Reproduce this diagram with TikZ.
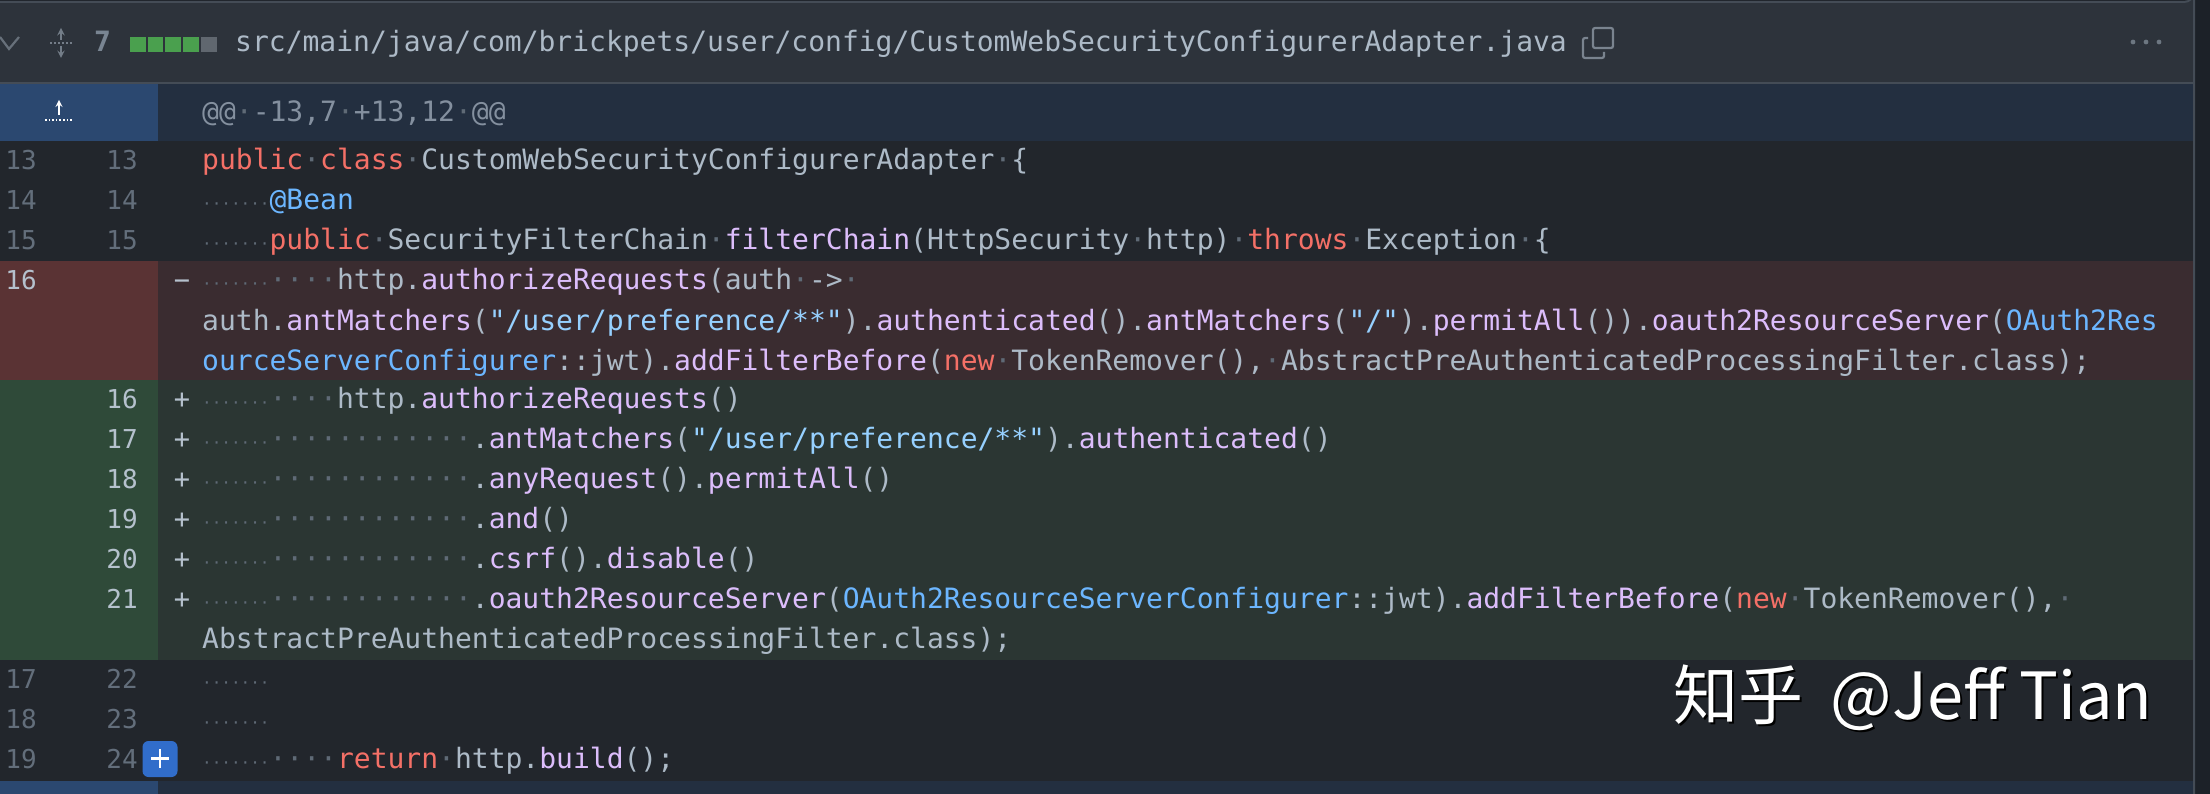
\documentclass[tikz,border=0pt]{standalone}
\usepackage{fontspec}
\usepackage{xcolor}
\newfontfamily\codefam{DejaVu Sans Mono}
\newfontfamily\markfam{Noto Sans CJK SC}
\definecolor{pagebg}{HTML}{1C2128}
\definecolor{codebg}{HTML}{22262C}
\definecolor{headbg}{HTML}{2D333B}
\definecolor{edgeln}{HTML}{444C56}
\definecolor{hunkbg}{HTML}{232F40}
\definecolor{hunknum}{HTML}{2B4870}
\definecolor{delbg}{HTML}{3A2C30}
\definecolor{delnum}{HTML}{5A3334}
\definecolor{addbg}{HTML}{2B3633}
\definecolor{addnum}{HTML}{2F4A39}
\definecolor{plain}{HTML}{ADBAC7}
\definecolor{dimnum}{HTML}{636E7B}
\definecolor{redkw}{HTML}{F47067}
\definecolor{bluety}{HTML}{6CB6FF}
\definecolor{bluestr}{HTML}{96D0FF}
\definecolor{purpfn}{HTML}{DCBDFB}
\definecolor{wsgray}{HTML}{5F6A76}
\definecolor{statgreen}{HTML}{4AA04E}
\definecolor{btnblue}{HTML}{316DCA}
\newcommand{\ckw}[1]{\textcolor{redkw}{#1}}
\newcommand{\cty}[1]{\textcolor{bluety}{#1}}
\newcommand{\cstr}[1]{\textcolor{bluestr}{#1}}
\newcommand{\cfn}[1]{\textcolor{purpfn}{#1}}
\newcommand{\ws}{\textcolor{wsgray}{·}}
\newcommand{\wsfour}{\textcolor{wsgray}{\fontsize{16}{16}\selectfont ·······}}
\newcommand{\wseight}{\wsfour\ws\ws\ws\ws}
\newcommand{\wssixteen}{\wseight\ws\ws\ws\ws\ws\ws\ws\ws}
\tikzset{
	codetxt/.style={anchor=base west,inner sep=0pt,text=plain,font=\codefam\fontsize{28}{34}\selectfont},
	oldnum/.style={anchor=base east,inner sep=0pt,text=dimnum,font=\codefam\fontsize{26}{30}\selectfont},
	litnum/.style={oldnum,text=plain!90!white},
	signtxt/.style={anchor=base,inner sep=0pt,text=plain!90!white,font=\codefam\fontsize{27}{30}\selectfont},
	iconln/.style={draw=#1,line width=2.2pt},
	iconln/.default=plain
}
\begin{document}
\begin{tikzpicture}[x=1pt,y=-1pt]
	\useasboundingbox (0,0) rectangle (2210,794);
	\fill[pagebg] (0,0) rectangle (2210,794);
	% panel
	\fill[codebg] (0,84) rectangle (2194,794);
	\fill[headbg] (0,2) -- (2184,2) arc[start angle=90,end angle=0,radius=10] -- (2194,84) -- (0,84) -- cycle;
	\draw[edgeln,line width=2pt] (0,2) -- (2184,2) arc[start angle=90,end angle=0,radius=10] -- (2194,794);
	\draw[edgeln,line width=2pt] (0,83) -- (2194,83);
	% hunks
	\fill[hunkbg] (0,84) rectangle (2193,141);
	\fill[hunknum] (0,84) rectangle (158,141);
	\fill[hunkbg] (0,781) rectangle (2193,794);
	\fill[hunknum] (0,781) rectangle (158,794);
	% changed rows
	\fill[delbg] (0,261) rectangle (2193,380);
	\fill[delnum] (0,261) rectangle (158,380);
	\fill[addbg] (0,380) rectangle (2193,660);
	\fill[addnum] (0,380) rectangle (158,660);
	% header
	\draw[plain!45!headbg,line width=2.2pt] (0,37) -- (9,49) -- (19,37);
	\draw[iconln=plain!55!headbg,-stealth] (61,40) -- (61,28);
	\draw[iconln=plain!55!headbg,-stealth] (61,46) -- (61,58);
	\draw[plain!55!headbg,line width=2pt,dotted] (50,43) -- (72,43);
	\node[codetxt,text=dimnum!70!plain,font=\codefam\bfseries\fontsize{28}{34}\selectfont] (changes) at (94,52) {7};
	\foreach \x in {130,147.7,165.4,183.1}
	{\fill[statgreen] (\x,37) rectangle +(15.7,15);}
	\fill[edgeln!85!white] (200.8,37) rectangle +(15.7,15);
	\node[codetxt] (path) at (235,52) {src/main/java/com/brickpets/user/config/CustomWebSecurityConfigurerAdapter.java};
	\draw[iconln=plain!60!headbg,rounded corners=2pt] (1593,28) rectangle (1613,48);
	\draw[iconln=plain!60!headbg,rounded corners=2pt] (1588,38) -- (1583,38) -- (1583,58) -- (1604,58) -- (1604,52);
	\foreach \x in {2133,2146,2159}
	{\fill[plain!50!headbg] (\x,42) circle (2.4);}
	% hunk row
	\draw[white,line width=2pt,-stealth] (59,115) -- (59,100);
	\draw[white,line width=1.6pt,dotted] (45,120) -- (73,120);
	\node[codetxt,text=plain!70!hunkbg] (hunk) at (202,122) {@@\ws-13,7\ws+13,12\ws@@};
	% line numbers
	\foreach \n/\y in {13/170,14/210,15/250,17/688.5,18/728.5,19/768.5}
	{\node[oldnum] (old\n) at (37,\y) {\n};}
	\foreach \n/\y in {13/170,14/210,15/250,22/688.5,23/728.5,24/768.5}
	{\node[oldnum] (new\n) at (138,\y) {\n};}
	\node[litnum] (old16) at (37,290) {16};
	\foreach \n/\y in {16/408.5,17/448.5,18/488.5,19/528.5,20/568.5,21/608.5}
	{\node[litnum] (new\n) at (138,\y) {\n};
	\node[signtxt] (plus\n) at (182,\y) {+};}
	\node[signtxt] (minus16) at (182,290) {−};
	% code
	\node[codetxt] (code13) at (202,170) {\ckw{public}\ws\ckw{class}\ws CustomWebSecurityConfigurerAdapter\ws\{};
	\node[codetxt] (code14) at (202,210) {\wsfour\cty{@Bean}};
	\node[codetxt] (code15) at (202,250) {\wsfour\ckw{public}\ws SecurityFilterChain\ws\cfn{filterChain}(HttpSecurity\ws http)\ws\ckw{throws}\ws Exception\ws\{};
	\node[codetxt] (del1) at (202,290) {\wseight http.\cfn{authorizeRequests}(auth\ws->\ws};
	\node[codetxt] (del2) at (202,330) {auth.\cfn{antMatchers}(\cstr{"/user/preference/**"}).\cfn{authenticated}().\cfn{antMatchers}(\cstr{"/"}).\cfn{permitAll}()).\cfn{oauth2ResourceServer}(\cty{OAuth2Res}};
	\node[codetxt] (del3) at (202,370) {\cty{ourceServerConfigurer}::jwt).\cfn{addFilterBefore}(\ckw{new}\ws TokenRemover(),\ws AbstractPreAuthenticatedProcessingFilter.class);};
	\node[codetxt] (add16) at (202,408.5) {\wseight http.\cfn{authorizeRequests}()};
	\node[codetxt] (add17) at (202,448.5) {\wssixteen.\cfn{antMatchers}(\cstr{"/user/preference/**"}).\cfn{authenticated}()};
	\node[codetxt] (add18) at (202,488.5) {\wssixteen.\cfn{anyRequest}().\cfn{permitAll}()};
	\node[codetxt] (add19) at (202,528.5) {\wssixteen.\cfn{and}()};
	\node[codetxt] (add20) at (202,568.5) {\wssixteen.\cfn{csrf}().\cfn{disable}()};
	\node[codetxt] (add21) at (202,608.5) {\wssixteen.\cfn{oauth2ResourceServer}(\cty{OAuth2ResourceServerConfigurer}::jwt).\cfn{addFilterBefore}(\ckw{new}\ws TokenRemover(),\ws};
	\node[codetxt] (add22) at (202,648.5) {AbstractPreAuthenticatedProcessingFilter.class);};
	\node[codetxt] (code22) at (202,688.5) {\wsfour};
	\node[codetxt] (code23) at (202,728.5) {\wsfour};
	\node[codetxt] (code24) at (202,768.5) {\wseight\ckw{return}\ws http.\cfn{build}();};
	% add button
	\fill[btnblue,rounded corners=6pt] (142.5,741) rectangle (177.5,777);
	\draw[white,line width=2.2pt] (151,758.5) -- (169,758.5);
	\draw[white,line width=2.2pt] (160,749) -- (160,768);
	% watermark
	\node[anchor=base west,inner sep=0pt,text=black,font=\markfam\fontsize{65}{70}\selectfont] (markshadow) at (1675,721) {知乎\hspace{13pt} @Jeff Tian};
	\node[anchor=base west,inner sep=0pt,text=white,font=\markfam\fontsize{65}{70}\selectfont] (mark) at (1673,719) {知乎\hspace{13pt} @Jeff Tian};
\end{tikzpicture}
\end{document}
